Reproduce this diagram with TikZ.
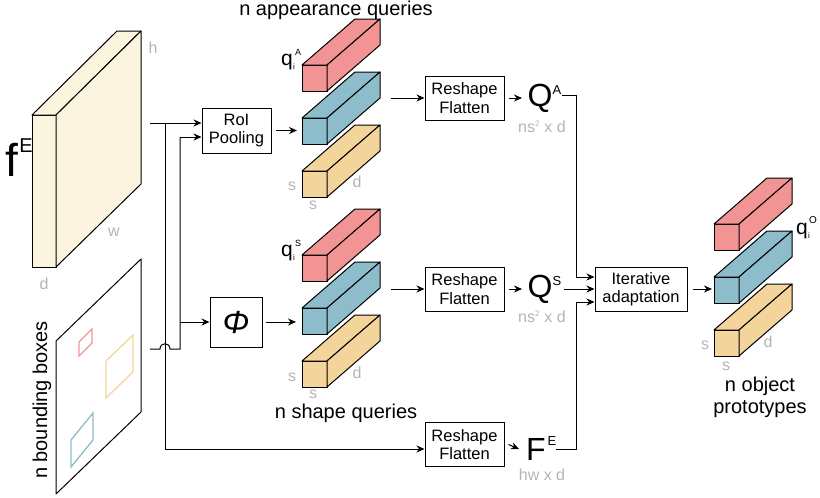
\documentclass[tikz,border=0pt]{standalone}
\usepackage{fontspec}
\setmainfont{Liberation Sans}
\usetikzlibrary{arrows.meta}
\definecolor{cred}{HTML}{F39494}
\definecolor{cblue}{HTML}{8DBCCB}
\definecolor{cyel}{HTML}{F3D49B}
\definecolor{ccream}{HTML}{FBF5E0}
\definecolor{cgray}{HTML}{B4B4B4}
\newcommand\mycub[3]{%
 \filldraw[fill=#3,line width=1pt,line join=round] (#1,#2) rectangle ({#1+25},{#2+26});
 \filldraw[fill=#3,line width=1pt,line join=round] (#1,#2) -- ++(53,-46) -- ++(25,0) -- ++(-53,46) -- cycle;
 \filldraw[fill=#3,line width=1pt,line join=round] ({#1+25},#2) -- ++(53,-46) -- ++(0,26) -- ++(-53,46) -- cycle;}
\begin{document}
\begin{tikzpicture}[x=1pt,y=-1pt,
 box/.style={draw,line width=1pt,align=center,inner sep=0pt,font=\fontsize{16.5}{18.5}\selectfont},
 arr/.style={line width=1pt,-{Stealth[length=8pt,width=7pt]}},
 ln/.style={line width=1pt},
 gl/.style={text=cgray,font=\fontsize{16}{17}\selectfont,inner sep=0pt},
 tx/.style={inner sep=0pt},
 lbl/.style={font=\fontsize{20}{22}\selectfont,inner sep=0pt,align=center}]
\useasboundingbox (0,0) rectangle (820,498);
% feature map
\filldraw[fill=ccream,line width=1pt,line join=round] (32,115) rectangle (56,267);
\filldraw[fill=ccream,line width=1pt,line join=round] (32,115) -- (117,31) -- (141,31) -- (56,115) -- cycle;
\filldraw[fill=ccream,line width=1pt,line join=round] (56,115) -- (141,31) -- (141,184) -- (56,267) -- cycle;
\node[tx,font=\fontsize{46}{46}\selectfont] (fE) at (12,160) {f};
\node[tx,font=\fontsize{20}{20}\selectfont] (fEs) at (26,146) {E};
\node[gl] (h) at (153,48) {h};
\node[gl] (w) at (114,232) {w};
\node[gl] (d0) at (44,284) {d};
% bbox panel
\draw[line width=1pt,line join=round] (56,341) -- (141,259) -- (141,412) -- (56,494) -- cycle;
\draw[cred,line width=1.3pt] (79,356) -- (79,342) -- (92,329) -- (92,343) -- cycle;
\draw[cyel,line width=1.3pt] (106,398) -- (106,361) -- (133,335) -- (133,372) -- cycle;
\draw[cblue,line width=1.3pt] (71,467) -- (71,440) -- (93,413) -- (93,440) -- cycle;
\node[lbl,rotate=90] (nbb) at (42,400) {n bounding boxes};
% boxes
\node[box,minimum width=69pt,minimum height=45pt] (roi) at (236.5,130.5) {RoI\\Pooling};
\node[box,minimum width=52pt,minimum height=50pt,font=\fontsize{32}{32}\selectfont\itshape] (phi) at (236,322) {Φ};
\node[box,minimum width=79pt,minimum height=44pt] (r1) at (464.5,98) {Reshape\\Flatten};
\node[box,minimum width=79pt,minimum height=44pt] (r2) at (464.5,289) {Reshape\\Flatten};
\node[box,minimum width=79pt,minimum height=44pt] (r3) at (464.5,444.5) {Reshape\\Flatten};
\node[box,minimum width=92pt,minimum height=44pt] (it) at (641,289) {Iterative\\adaptation};
% connectors left
\coordinate (fo) at (150,123);
\coordinate (bo) at (150,349);
\draw[arr] (fo) -- (roi.west |- fo);
\draw[arr] (fo) -| (165,449) -- (r3.west |- 0,449);
\draw[ln] (bo) -- (160,349) .. controls (160,342) and (170,342) .. (170,349) -- (180,349) -- (180,137);
\draw[arr] (180,137) -- (roi.west |- 0,137);
\draw[arr] (180,322) -- (phi.west);
\draw[arr] (roi.east) ++(4,0) -- (297,130.5);
\draw[arr] (phi.east) ++(3,0) -- (296,322);
% cuboids appearance
\mycub{302}{65}{cred}
\mycub{302}{118}{cblue}
\mycub{302}{171}{cyel}
\node[lbl] (nap) at (336,10) {n appearance queries};
\node[tx,font=\fontsize{21}{21}\selectfont] (qa) at (287,62) {q};
\node[tx,font=\fontsize{8}{8}\selectfont] (qai) at (294,67) {i};
\node[tx,font=\fontsize{9}{9}\selectfont] (qaA) at (298,52) {A};
\node[gl] at (292,186) {s};
\node[gl] at (357,182) {d};
\node[gl] at (313,205) {s};
% cuboids shape
\mycub{302}{255}{cred}
\mycub{302}{308}{cblue}
\mycub{302}{361}{cyel}
\node[lbl] (nsq) at (346,413) {n shape queries};
\node[tx,font=\fontsize{21}{21}\selectfont] (qs) at (287,253) {q};
\node[tx,font=\fontsize{8}{8}\selectfont] (qsi) at (294,258) {i};
\node[tx,font=\fontsize{9}{9}\selectfont] (qsS) at (298,243) {S};
\node[gl] at (292,377) {s};
\node[gl] at (357,373) {d};
\node[gl] at (313,394) {s};
% to reshape
\draw[arr] (391,98) -- (r1.west);
\draw[arr] (391,289) -- (r2.west);
% Q labels
\node[tx,font=\fontsize{32}{32}\selectfont] (QA) at (540,98) {Q};
\node[tx,font=\fontsize{13}{13}\selectfont] (QAs) at (557,90) {A};
\node[tx,font=\fontsize{32}{32}\selectfont] (QS) at (540,289) {Q};
\node[tx,font=\fontsize{13}{13}\selectfont] (QSs) at (557,281) {S};
\node[tx,font=\fontsize{32}{32}\selectfont] (FE) at (536,449) {F};
\node[tx,font=\fontsize{13}{13}\selectfont] (FEs) at (552,441) {E};
\node[gl] at (542,127) {ns\textsuperscript{\fontsize{8}{8}\selectfont 2} x d};
\node[gl] at (542,317) {ns\textsuperscript{\fontsize{8}{8}\selectfont 2} x d};
\node[gl] at (542,475) {hw x d};
\draw[arr] (r1.east) ++(4,0) -- (522,98);
\draw[arr] (r2.east) ++(4,0) -- (522,289);
\draw[arr] (r3.east) ++(4,0) -- (519,449);
% to iterative
\draw[arr] (562,95) -| (576,277) -- (it.west |- 0,277);
\draw[arr] (564,289) -- (it.west);
\draw[arr] (556,449) -| (576,302) -- (it.west |- 0,302);
\draw[arr] (it.east) ++(5,0) -- (712,289);
% output cuboids
\mycub{714}{224}{cred}
\mycub{714}{277}{cblue}
\mycub{714}{330}{cyel}
\node[tx,font=\fontsize{21}{21}\selectfont] (qo) at (802,231) {q};
\node[tx,font=\fontsize{8}{8}\selectfont] (qoi) at (809,236) {i};
\node[tx,font=\fontsize{10}{10}\selectfont] (qoO) at (813,220) {O};
\node[gl] at (705,345) {s};
\node[gl] at (768,342) {d};
\node[gl] at (726,366) {s};
\node[lbl] (nop) at (760,397) {n object\\prototypes};
\end{tikzpicture}
\end{document}
